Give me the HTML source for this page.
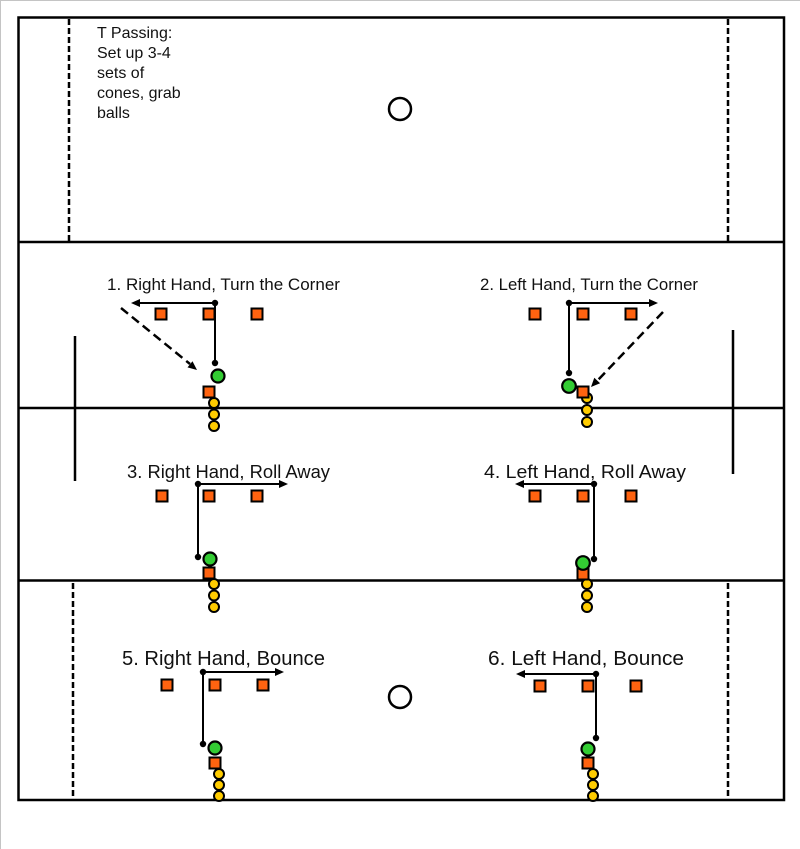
<!DOCTYPE html>
<html>
<head>
<meta charset="utf-8">
<style>
  html, body { margin: 0; padding: 0; background: #fff; }
  body { width: 800px; height: 849px; overflow: hidden; }
  svg { display: block; }
  text { font-family: "Liberation Sans", Arial, sans-serif; fill: #111; }
</style>
</head>
<body>
<svg width="800" height="849" viewBox="0 0 800 849" xmlns="http://www.w3.org/2000/svg">
  <!-- page border (gray) -->
  <line x1="0" y1="0.5" x2="800" y2="0.5" stroke="#c4c4c4" stroke-width="1"/>
  <line x1="0.5" y1="0" x2="0.5" y2="849" stroke="#c4c4c4" stroke-width="1"/>

  <!-- field frame -->
  <rect x="18.5" y="17.5" width="765.5" height="782.5" fill="none" stroke="#000" stroke-width="2.5"/>
  <line x1="18" y1="242" x2="785" y2="242" stroke="#000" stroke-width="2.5"/>
  <line x1="18" y1="408" x2="785" y2="408" stroke="#000" stroke-width="2.5"/>
  <line x1="18" y1="580.5" x2="785" y2="580.5" stroke="#000" stroke-width="2.5"/>

  <!-- dashed lines -->
  <g stroke="#000" stroke-width="2.5" stroke-dasharray="6 3" fill="none">
    <line x1="69" y1="19" x2="69" y2="243"/>
    <line x1="728" y1="19" x2="728" y2="243"/>
    <line x1="73" y1="583" x2="73" y2="797"/>
    <line x1="728" y1="583" x2="728" y2="801"/>
  </g>

  <!-- short vertical lines -->
  <line x1="75" y1="336" x2="75" y2="481" stroke="#000" stroke-width="2.5"/>
  <line x1="733" y1="330" x2="733" y2="474" stroke="#000" stroke-width="2.5"/>

  <!-- center circles -->
  <circle cx="400" cy="109" r="11" fill="#fff" stroke="#000" stroke-width="2.5"/>
  <circle cx="400" cy="697" r="11" fill="#fff" stroke="#000" stroke-width="2.5"/>

  <!-- note text -->
  <text x="97" y="38" font-size="16">T Passing:</text>
  <text x="97" y="58" font-size="16">Set up 3-4</text>
  <text x="97" y="78" font-size="16">sets of</text>
  <text x="97" y="98" font-size="16">cones, grab</text>
  <text x="97" y="118" font-size="16">balls</text>

  <!-- labels -->
  <text x="107" y="290" font-size="17" textLength="233" lengthAdjust="spacingAndGlyphs">1. Right Hand, Turn the Corner</text>
  <text x="480" y="290" font-size="17" textLength="218" lengthAdjust="spacingAndGlyphs">2. Left Hand, Turn the Corner</text>
  <text x="127" y="478" font-size="18.8" textLength="203" lengthAdjust="spacingAndGlyphs">3. Right Hand, Roll Away</text>
  <text x="484" y="478" font-size="18.8" textLength="202" lengthAdjust="spacingAndGlyphs">4. Left Hand, Roll Away</text>
  <text x="122" y="665" font-size="20.5" textLength="203" lengthAdjust="spacingAndGlyphs">5. Right Hand, Bounce</text>
  <text x="488" y="665" font-size="20.5" textLength="196" lengthAdjust="spacingAndGlyphs">6. Left Hand, Bounce</text>

  <!-- ========== Section 1 ========== -->
  <g>
    <!-- cones -->
    <g fill="#ff6310" stroke="#000" stroke-width="2">
      <rect x="155.5" y="308.5" width="11" height="11"/>
      <rect x="203.5" y="308.5" width="11" height="11"/>
      <rect x="251.5" y="308.5" width="11" height="11"/>
    </g>
    <!-- path -->
    <line x1="215" y1="303" x2="215" y2="363" stroke="#000" stroke-width="2"/>
    <line x1="215" y1="303" x2="140" y2="303" stroke="#000" stroke-width="2"/>
    <polygon points="131,303 140,299 140,307" fill="#000"/>
    <circle cx="215" cy="303" r="3.2" fill="#000"/>
    <circle cx="215" cy="363" r="3.2" fill="#000"/>
    <!-- dashed pass -->
    <line x1="121" y1="308" x2="190" y2="364" stroke="#000" stroke-width="2.5" stroke-dasharray="9 5"/>
    <polygon points="197,370 187.5,367.4 192.5,361.2" fill="#000"/>
    <!-- balls -->
    <g fill="#ffcc00" stroke="#000" stroke-width="2">
      <circle cx="214" cy="426" r="5"/>
      <circle cx="214" cy="414.5" r="5"/>
      <circle cx="214" cy="403" r="5"/>
    </g>
    <rect x="203.5" y="386.5" width="11" height="11" fill="#ff6310" stroke="#000" stroke-width="2"/>
    <circle cx="218" cy="376" r="6.5" fill="#33cc33" stroke="#000" stroke-width="2.2"/>
  </g>

  <!-- ========== Section 2 ========== -->
  <g>
    <g fill="#ff6310" stroke="#000" stroke-width="2">
      <rect x="529.5" y="308.5" width="11" height="11"/>
      <rect x="577.5" y="308.5" width="11" height="11"/>
      <rect x="625.5" y="308.5" width="11" height="11"/>
    </g>
    <line x1="569" y1="303" x2="569" y2="373" stroke="#000" stroke-width="2"/>
    <line x1="569" y1="303" x2="649" y2="303" stroke="#000" stroke-width="2"/>
    <polygon points="658,303 649,299 649,307" fill="#000"/>
    <circle cx="569" cy="303" r="3.2" fill="#000"/>
    <circle cx="569" cy="373" r="3.2" fill="#000"/>
    <line x1="663" y1="312" x2="597" y2="381" stroke="#000" stroke-width="2.5" stroke-dasharray="9 5"/>
    <polygon points="591,387 600.1,383.3 594.3,377.7" fill="#000"/>
    <g fill="#ffcc00" stroke="#000" stroke-width="2">
      <circle cx="587" cy="422" r="5"/>
      <circle cx="587" cy="410" r="5"/>
      <circle cx="587" cy="398" r="5"/>
    </g>
    <rect x="577.5" y="386.5" width="11" height="11" fill="#ff6310" stroke="#000" stroke-width="2"/>
    <circle cx="569" cy="386" r="6.8" fill="#33cc33" stroke="#000" stroke-width="2.2"/>
  </g>

  <!-- ========== Section 3 ========== -->
  <g>
    <g fill="#ff6310" stroke="#000" stroke-width="2">
      <rect x="156.5" y="490.5" width="11" height="11"/>
      <rect x="203.5" y="490.5" width="11" height="11"/>
      <rect x="251.5" y="490.5" width="11" height="11"/>
    </g>
    <line x1="198" y1="484" x2="198" y2="557" stroke="#000" stroke-width="2"/>
    <line x1="198" y1="484" x2="279" y2="484" stroke="#000" stroke-width="2"/>
    <polygon points="288,484 279,480 279,488" fill="#000"/>
    <circle cx="198" cy="484" r="3.2" fill="#000"/>
    <circle cx="198" cy="557" r="3.2" fill="#000"/>
    <g fill="#ffcc00" stroke="#000" stroke-width="2">
      <circle cx="214" cy="607" r="5"/>
      <circle cx="214" cy="595.5" r="5"/>
      <circle cx="214" cy="584" r="5"/>
    </g>
    <rect x="203.5" y="567.5" width="11" height="11" fill="#ff6310" stroke="#000" stroke-width="2"/>
    <circle cx="210" cy="559" r="6.5" fill="#33cc33" stroke="#000" stroke-width="2.2"/>
  </g>

  <!-- ========== Section 4 ========== -->
  <g>
    <g fill="#ff6310" stroke="#000" stroke-width="2">
      <rect x="529.5" y="490.5" width="11" height="11"/>
      <rect x="577.5" y="490.5" width="11" height="11"/>
      <rect x="625.5" y="490.5" width="11" height="11"/>
    </g>
    <line x1="594" y1="484" x2="594" y2="559" stroke="#000" stroke-width="2"/>
    <line x1="594" y1="484" x2="524" y2="484" stroke="#000" stroke-width="2"/>
    <polygon points="515,484 524,480 524,488" fill="#000"/>
    <circle cx="594" cy="484" r="3.2" fill="#000"/>
    <circle cx="594" cy="559" r="3.2" fill="#000"/>
    <g fill="#ffcc00" stroke="#000" stroke-width="2">
      <circle cx="587" cy="607" r="5"/>
      <circle cx="587" cy="595.5" r="5"/>
      <circle cx="587" cy="584" r="5"/>
    </g>
    <rect x="577.5" y="568.5" width="11" height="11" fill="#ff6310" stroke="#000" stroke-width="2"/>
    <circle cx="583" cy="563" r="6.8" fill="#33cc33" stroke="#000" stroke-width="2.2"/>
  </g>

  <!-- ========== Section 5 ========== -->
  <g>
    <g fill="#ff6310" stroke="#000" stroke-width="2">
      <rect x="161.5" y="679.5" width="11" height="11"/>
      <rect x="209.5" y="679.5" width="11" height="11"/>
      <rect x="257.5" y="679.5" width="11" height="11"/>
    </g>
    <line x1="203" y1="672" x2="203" y2="744" stroke="#000" stroke-width="2"/>
    <line x1="203" y1="672" x2="275" y2="672" stroke="#000" stroke-width="2"/>
    <polygon points="284,672 275,668 275,676" fill="#000"/>
    <circle cx="203" cy="672" r="3.2" fill="#000"/>
    <circle cx="203" cy="744" r="3.2" fill="#000"/>
    <g fill="#ffcc00" stroke="#000" stroke-width="2">
      <circle cx="219" cy="796" r="5"/>
      <circle cx="219" cy="785" r="5"/>
      <circle cx="219" cy="774" r="5"/>
    </g>
    <rect x="209.5" y="757.5" width="11" height="11" fill="#ff6310" stroke="#000" stroke-width="2"/>
    <circle cx="215" cy="748" r="6.5" fill="#33cc33" stroke="#000" stroke-width="2.2"/>
  </g>

  <!-- ========== Section 6 ========== -->
  <g>
    <g fill="#ff6310" stroke="#000" stroke-width="2">
      <rect x="534.5" y="680.5" width="11" height="11"/>
      <rect x="582.5" y="680.5" width="11" height="11"/>
      <rect x="630.5" y="680.5" width="11" height="11"/>
    </g>
    <line x1="596" y1="674" x2="596" y2="738" stroke="#000" stroke-width="2"/>
    <line x1="596" y1="674" x2="525" y2="674" stroke="#000" stroke-width="2"/>
    <polygon points="516,674 525,670 525,678" fill="#000"/>
    <circle cx="596" cy="674" r="3.2" fill="#000"/>
    <circle cx="596" cy="738" r="3.2" fill="#000"/>
    <g fill="#ffcc00" stroke="#000" stroke-width="2">
      <circle cx="593" cy="796" r="5"/>
      <circle cx="593" cy="785" r="5"/>
      <circle cx="593" cy="774" r="5"/>
    </g>
    <rect x="582.5" y="757.5" width="11" height="11" fill="#ff6310" stroke="#000" stroke-width="2"/>
    <circle cx="588" cy="749" r="6.5" fill="#33cc33" stroke="#000" stroke-width="2.2"/>
  </g>
</svg>
</body>
</html>
